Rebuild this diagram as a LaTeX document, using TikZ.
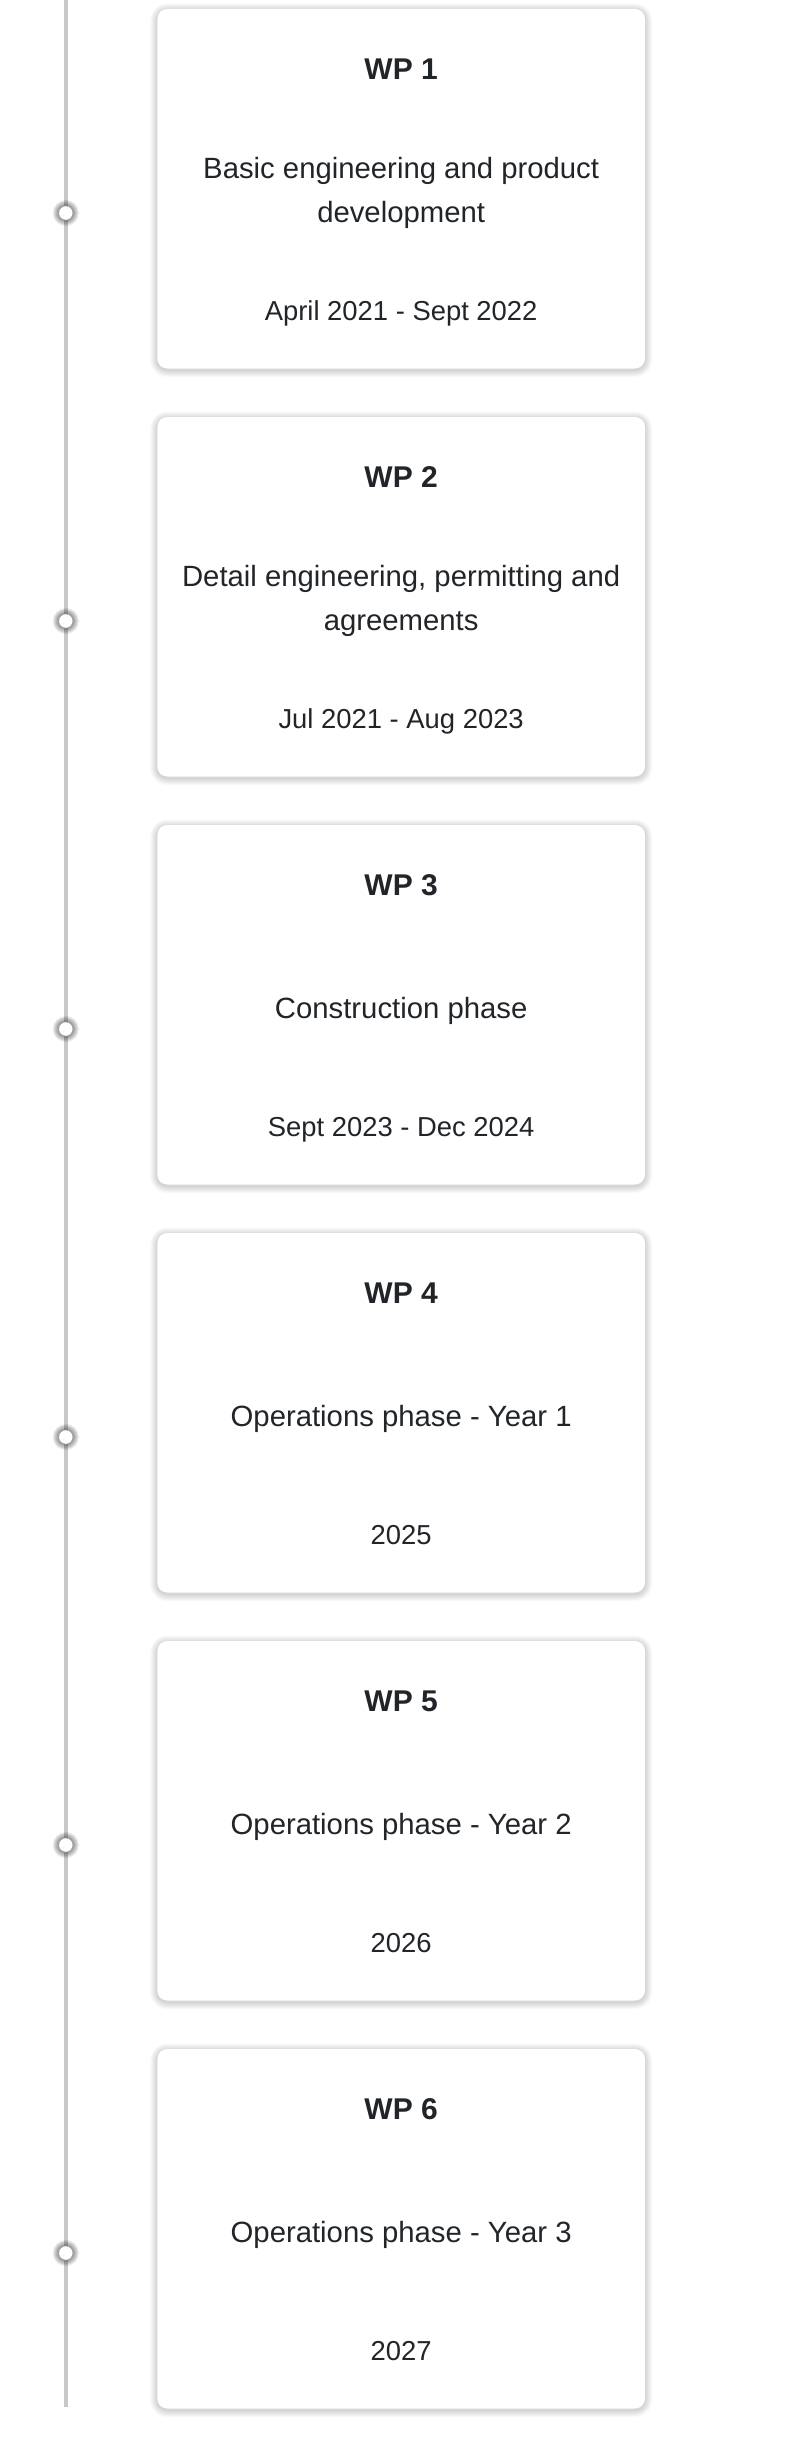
\documentclass[tikz,border=0pt]{standalone}
\usepackage{fontspec}
\setmainfont{Liberation Sans}
\usetikzlibrary{calc}
\definecolor{ink}{HTML}{212529}
\definecolor{rail}{HTML}{C8C8C8}
\tikzset{
  cardbox/.style={rectangle, rounded corners=10pt, fill=white, minimum width=487.7pt, minimum height=359.5pt, inner sep=0pt},
  dotnode/.style={circle, fill=white, draw=black!40, line width=0.5pt, minimum size=14.2pt, inner sep=0pt},
  headtxt/.style={anchor=base, inner sep=0pt, text=ink, font=\fontsize{30}{36}\selectfont\bfseries},
  bodytxt/.style={anchor=base, inner sep=0pt, text=ink, font=\fontsize{29.3}{36}\selectfont},
  datetxt/.style={anchor=base, inner sep=0pt, text=ink, font=\fontsize{27.4}{33}\selectfont},
  railline/.style={draw=rail, line width=3.5pt}
}
\begin{document}
\begin{tikzpicture}[x=1pt,y=-1pt]
\useasboundingbox (0,0) rectangle (802,2456);
\fill[white] (0,0) rectangle (802,2456);
% card shadows
\foreach \i in {0,...,5}{
  \pgfmathsetmacro{\top}{9+408*\i}
  \pgfmathsetmacro{\bot}{\top+359.5}
  \foreach \k in {1,...,7}{
    \pgfmathsetmacro{\rr}{10+\k}
    \fill[black,opacity=0.022,rounded corners=\rr pt] (157.3-\k,\top-\k+1.5) rectangle (645+\k,\bot+\k+1.5);
  }
}
% cards
\foreach \i in {1,...,6}{
  \node[cardbox] (card\i) at (401.15, {9+408*(\i-1)+179.75}) {};
}
% timeline rail
\coordinate (railtop) at (65.8,0);
\coordinate (railbot) at (65.8,2407);
\draw[railline] (railtop) -- (railbot);
% dots with glow
\foreach \i in {1,...,6}{
  \coordinate (dc\i) at (65.8, {9+408*(\i-1)+204});
  \foreach \k in {1,...,6}{
    \pgfmathsetmacro{\gr}{7.1+\k}
    \fill[black,opacity=0.075] (dc\i) circle[radius=\gr pt];
  }
  \node[dotnode] (dot\i) at (dc\i) {};
}
% texts
\node[headtxt] (h1) at ($(card1.north)+(0,71)$) {WP 1};
\node[bodytxt] (b1a) at ($(card1.north)+(0,170)$) {Basic engineering and product};
\node[bodytxt] (b1b) at ($(card1.north)+(0,213.7)$) {development};
\node[datetxt] (d1) at ($(card1.north)+(0,311.7)$) {April 2021 - Sept 2022};

\node[headtxt] (h2) at ($(card2.north)+(0,71)$) {WP 2};
\node[bodytxt] (b2a) at ($(card2.north)+(0,170)$) {Detail engineering, permitting and};
\node[bodytxt] (b2b) at ($(card2.north)+(0,213.7)$) {agreements};
\node[datetxt] (d2) at ($(card2.north)+(0,311.7)$) {Jul 2021 - Aug 2023};

\node[headtxt] (h3) at ($(card3.north)+(0,71)$) {WP 3};
\node[bodytxt] (b3) at ($(card3.north)+(0,193.3)$) {Construction phase};
\node[datetxt] (d3) at ($(card3.north)+(0,311.7)$) {Sept 2023 - Dec 2024};

\node[headtxt] (h4) at ($(card4.north)+(0,71)$) {WP 4};
\node[bodytxt] (b4) at ($(card4.north)+(0,193.3)$) {Operations phase - Year 1};
\node[datetxt] (d4) at ($(card4.north)+(0,311.7)$) {2025};

\node[headtxt] (h5) at ($(card5.north)+(0,71)$) {WP 5};
\node[bodytxt] (b5) at ($(card5.north)+(0,193.3)$) {Operations phase - Year 2};
\node[datetxt] (d5) at ($(card5.north)+(0,311.7)$) {2026};

\node[headtxt] (h6) at ($(card6.north)+(0,71)$) {WP 6};
\node[bodytxt] (b6) at ($(card6.north)+(0,193.3)$) {Operations phase - Year 3};
\node[datetxt] (d6) at ($(card6.north)+(0,311.7)$) {2027};
\end{tikzpicture}
\end{document}
